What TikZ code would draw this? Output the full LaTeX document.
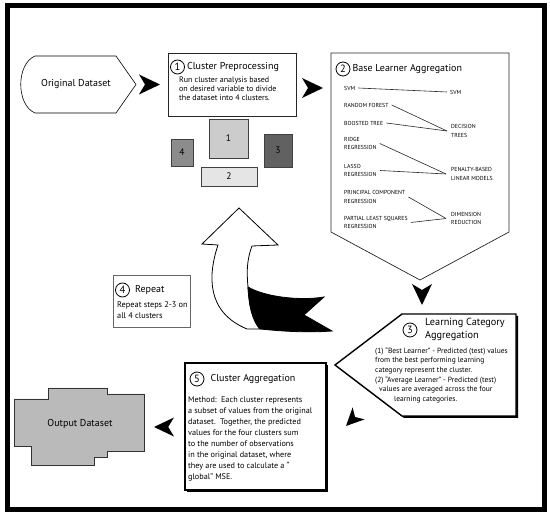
\documentclass[tikz,border=0pt]{standalone}
\usepackage{fontspec}
\setmainfont{PT Sans}
\usetikzlibrary{positioning, calc}

\tikzset{
    title/.style={font=\fontsize{10}{12}\selectfont, anchor=west, inner sep=0pt},
    body/.style={font=\fontsize{8}{9}\selectfont, align=left, anchor=north west, inner sep=0pt},
    num/.style={circle, draw, line width=0.8pt, minimum size=14pt, inner sep=0pt, font=\fontsize{10.5}{12}\selectfont},
    item/.style={font=\fontsize{5.8}{8.6}\selectfont, align=left, anchor=west, inner sep=0pt},
    link/.style={line width=0.6pt, black!85},
    clus/.style={draw=black!75, line width=0.5pt, inner sep=0pt, font=\fontsize{9.5}{11}\selectfont},
    pics/chevron/.style={code={\fill[black] (0,0) -- (-21,-10) -- (-15,0) -- (-21,10) -- cycle;}}
}

\begin{document}
\begin{tikzpicture}[x=1pt, y=-1pt]
    \useasboundingbox (0,0) rectangle (550,518);
    \draw[line width=5pt] (7.5,6) rectangle (544.5,509.5);

    % original dataset
    \draw[line width=0.6pt] (35,56) -- (116,56) -- (136,84.5) -- (116,113) -- (35,113)
        .. controls (16,105) and (16,64) .. (35,56);
    \node[title, anchor=center] (orig) at (76,84.5) {Original Dataset};
    \pic at (160,84.5) {chevron};

    % step 1
    \draw[line width=0.9pt, black!85] (168,53) rectangle (296,116);
    \node[num] (n1) at (177.5,67) {1};
    \node[title, right=2pt of n1] (t1) {Cluster Preprocessing};
    \node[body] (b1) at (179,77) {Run cluster analysis based\\on desired variable to divide\\the dataset into 4 clusters.};

    \node[clus, fill=black!20, minimum width=39pt, minimum height=39pt] (c1) at (228.5,138.5) {1};
    \node[clus, fill=black!10, minimum width=56pt, minimum height=19pt] (c2) at (229,176.5) {2};
    \node[clus, fill=black!62, minimum width=28pt, minimum height=33pt] (c3) at (278,150.5) {3};
    \node[clus, fill=black!45, minimum width=22pt, minimum height=27pt] (c4) at (182,152.5) {4};
    \pic at (323,88) {chevron};

    % step 2
    \draw[line width=0.7pt, black!85] (331,53) -- (509,53) -- (509,232) -- (420,280) -- (331,232) -- cycle;
    \node[num] (n2) at (343,69) {2};
    \node[title, right=2pt of n2] (t2) {Base Learner Aggregation};

    \node[item] (svmL) at (344,88) {SVM};
    \node[item] (svmR) at (450,92) {SVM};
    \node[item] (rf) at (344,105) {RANDOM FOREST};
    \node[item] (bt) at (344,123) {BOOSTED TREE};
    \node[item] (dt) at (451,131) {DECISION\\TREES};
    \node[item] (rr) at (344,143.5) {RIDGE\\REGRESSION};
    \node[item] (lr) at (344,170.5) {LASSO\\REGRESSION};
    \node[item] (pb) at (451,174) {PENALTY-BASED\\LINEAR MODELS};
    \node[item] (pc) at (344,197) {PRINCIPAL COMPONENT\\REGRESSION};
    \node[item] (pl) at (344,222.5) {PARTIAL LEAST SQUARES\\REGRESSION};
    \node[item] (dr) at (451,218.5) {DIMENSION\\REDUCTION};

    \draw[link] ([xshift=3pt]svmL.east) -- ([xshift=-3pt]svmR.west);
    \draw[link] ([xshift=3pt]rf.east) -- ([xshift=-4pt]dt.west);
    \draw[link] ([xshift=3pt]bt.east) -- ([xshift=-4pt]dt.west);
    \draw[link] ([xshift=3pt]rr.east) -- ([xshift=-5pt]pb.west);
    \draw[link] ([xshift=3pt]lr.east) -- ([xshift=-5pt]pb.west);
    \draw[link] ([xshift=3pt]pc.east) -- ([xshift=-5pt]dr.west);
    \draw[link] ([xshift=3pt]pl.east) -- ([xshift=-5pt]dr.west);
    \pic[rotate=-90] at (422,305) {chevron};

    % step 3
    \fill[black] (404,316) -- (518,316) -- (518,418) -- (404,418) -- (337,367) -- cycle;
    \filldraw[fill=white, line width=1.4pt] (402,314) -- (516,314) -- (516,416) -- (402,416) -- (335,365) -- cycle;
    \node[num] (n3) at (410,330) {3};
    \node[title, align=left, anchor=north west, font=\fontsize{10.3}{13}\selectfont] (t3) at (425,318) {Learning Category\\Aggregation};
    \node[body, font=\fontsize{7.5}{9.7}\selectfont] (b3) at (375,347) {(1) ``Best Learner'' - Predicted (test) values\\from the best performing learning\\category represent the cluster.\\(2) ``Average Learner'' - Predicted (test)\\\hspace*{4pt}values are averaged across the four\\\hspace*{19pt}learning categories.};
    \pic[rotate=225, scale=0.85] at (346,426) {chevron};

    % step 5
    \fill[black] (187,365) rectangle (328,492);
    \filldraw[fill=white, line width=1.5pt] (185,363) rectangle (326,490);
    \node[num] (n5) at (197,379) {5};
    \node[title, right=6pt of n5] (t5) {Cluster Aggregation};
    \node[body, font=\fontsize{8.2}{10.9}\selectfont] (b5) at (188,397) {Method:\ \ Each cluster represents\\a subset of values from the original\\dataset.\ \ Together, the predicted\\values for the four clusters sum\\to the number of observations\\in the original dataset, where\\they are used to calculate a ``\\global'' MSE.};
    \pic[rotate=180, scale=0.95] at (154,427) {chevron};

    % output dataset
    \filldraw[fill=black!27, draw=black!80, line width=0.8pt]
        (48,388) -- (107,388) -- (107,394) -- (144,394) -- (144,451) -- (107,451) -- (107,457)
        -- (94,457) -- (94,465) -- (31,465) -- (31,446) -- (14,446) -- (14,399) -- (48,399) -- cycle;
    \node[title, anchor=center] (outp) at (80,424) {Output Dataset};

    % step 4
    \draw[line width=0.6pt, black!60] (113,275) rectangle (190,327);
    \node[num] (n4) at (122.5,290) {4};
    \node[title, right=5pt of n4] (t4) {Repeat};
    \node[body, font=\fontsize{8.3}{11}\selectfont] (b4) at (117,301) {Repeat steps 2-3 on\\all 4 clusters};

    % return arrow
    \filldraw[fill=white, line width=0.8pt] (239,208) -- (278,245) -- (252,246)
        .. controls (246,262) and (247,275) .. (248,287)
        .. controls (249,305) and (252,320) .. (260,329) -- (247,329)
        .. controls (206,312) and (208,275) .. (218,245) -- (202,244) -- cycle;
    \filldraw[fill=black, line width=0.8pt] (248,287) .. controls (265,297) and (300,301) .. (324,297)
        -- (304,315) -- (332,331) .. controls (305,333) and (280,331) .. (260,329)
        .. controls (252,320) and (249,305) .. (248,287) -- cycle;
\end{tikzpicture}
\end{document}
